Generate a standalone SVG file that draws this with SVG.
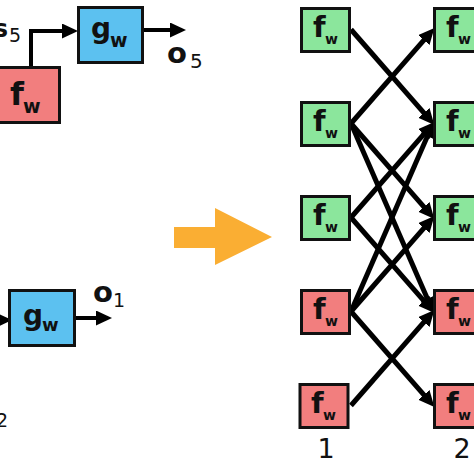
<svg xmlns="http://www.w3.org/2000/svg" width="474" height="474" viewBox="0 0 474 474">
<defs>
<style>
.box{stroke:#111;stroke-width:3}
.g{fill:#8BE69C}.r{fill:#F27E7E}.b{fill:#5CC1F0}
.t{font-family:"DejaVu Sans",sans-serif;fill:#111}
.bd{font-weight:bold}
.con{stroke:#000;stroke-width:5;fill:none}
.con2{stroke:#000;stroke-width:4;fill:none}
</style>
<marker id="ah" markerUnits="userSpaceOnUse" markerWidth="17" markerHeight="16" refX="6" refY="7.5" orient="auto">
<path d="M0,0 L16,7.5 L0,15 z" fill="#000"/>
</marker>
</defs>
<rect width="474" height="474" fill="#fff"/>

<g id="arrow-big">
<polygon points="174,227 215,227 215,208 272,237 215,265 215,248 174,248" fill="#FAAE33"/>
</g>

<g id="left-connectors">
<path class="con2" d="M31,66 V31 H68" marker-end="url(#ah)"/>
<path class="con2" d="M144,30 H176" marker-end="url(#ah)"/>
<path class="con2" d="M-20,320 H2" marker-end="url(#ah)"/>
<path class="con2" d="M76,318 H102" marker-end="url(#ah)"/>
</g>

<g id="f-left">
<rect class="box r" x="-10" y="67.5" width="69.5" height="55"/>
<text class="t bd" x="10" y="105" font-size="32">f</text>
<text class="t bd" x="23" y="113" font-size="19">w</text>
</g>
<g id="g-top">
<rect class="box b" x="78.5" y="7.5" width="64" height="55"/>
<text class="t bd" x="91" y="38" font-size="28">g</text>
<text class="t bd" x="110" y="47" font-size="19">w</text>
</g>
<g id="g-bottom">
<rect class="box b" x="9.5" y="290.5" width="65" height="55"/>
<text class="t bd" x="23" y="325" font-size="28">g</text>
<text class="t bd" x="42" y="331" font-size="18">w</text>
</g>
<g id="labels-left">
<text class="t bd" x="8" y="37" font-size="24" text-anchor="end">s</text>
<text class="t" x="9" y="42" font-size="19">5</text>
<text class="t bd" x="167" y="63" font-size="29">o</text>
<text class="t" x="190" y="68" font-size="20">5</text>
<text class="t bd" x="93" y="302" font-size="29">o</text>
<text class="t" x="113" y="307" font-size="19">1</text>
<text class="t" x="-4" y="427" font-size="19">2</text>
</g>

<g id="connectors">
<line class="con" x1="351" y1="29.5" x2="427.8" y2="117.4" marker-end="url(#ah)"/>
<line class="con" x1="351" y1="123.5" x2="427.8" y2="35.6" marker-end="url(#ah)"/>
<line class="con" x1="351" y1="123.5" x2="427.8" y2="211.4" marker-end="url(#ah)"/>
<line class="con" x1="351" y1="123.5" x2="429.8" y2="304.2" marker-end="url(#ah)"/>
<line class="con" x1="351" y1="217.5" x2="427.8" y2="129.6" marker-end="url(#ah)"/>
<line class="con" x1="351" y1="217.5" x2="427.8" y2="305.4" marker-end="url(#ah)"/>
<line class="con" x1="351" y1="311.5" x2="429.8" y2="130.8" marker-end="url(#ah)"/>
<line class="con" x1="351" y1="311.5" x2="427.8" y2="223.6" marker-end="url(#ah)"/>
<line class="con" x1="351" y1="311.5" x2="427.8" y2="399.4" marker-end="url(#ah)"/>
<line class="con" x1="351" y1="405.5" x2="427.8" y2="317.6" marker-end="url(#ah)"/>
</g>

<g id="c1n1"><rect class="box g" x="301.5" y="8.5" width="48" height="43"/><text class="t bd" x="313" y="37" font-size="29">f</text><text class="t bd" x="325" y="44" font-size="14">w</text></g>
<g id="c1n2"><rect class="box g" x="301.5" y="102.5" width="48" height="43"/><text class="t bd" x="313" y="131" font-size="29">f</text><text class="t bd" x="325" y="138" font-size="14">w</text></g>
<g id="c1n3"><rect class="box g" x="301.5" y="196.5" width="48" height="43"/><text class="t bd" x="313" y="225" font-size="29">f</text><text class="t bd" x="325" y="232" font-size="14">w</text></g>
<g id="c1n4"><rect class="box r" x="301.5" y="290.5" width="48" height="43"/><text class="t bd" x="313" y="319" font-size="29">f</text><text class="t bd" x="325" y="326" font-size="14">w</text></g>
<g id="c1n5"><rect class="box r" x="300" y="384.5" width="48" height="43"/><text class="t bd" x="311" y="413" font-size="29">f</text><text class="t bd" x="323" y="420" font-size="14">w</text></g>

<g id="c2n1"><rect class="box g" x="434.5" y="8.5" width="48" height="43"/><text class="t bd" x="446" y="37" font-size="29">f</text><text class="t bd" x="458" y="44" font-size="14">w</text></g>
<g id="c2n2"><rect class="box g" x="434.5" y="102.5" width="48" height="43"/><text class="t bd" x="446" y="131" font-size="29">f</text><text class="t bd" x="458" y="138" font-size="14">w</text></g>
<g id="c2n3"><rect class="box g" x="434.5" y="196.5" width="48" height="43"/><text class="t bd" x="446" y="225" font-size="29">f</text><text class="t bd" x="458" y="232" font-size="14">w</text></g>
<g id="c2n4"><rect class="box r" x="434.5" y="290.5" width="48" height="43"/><text class="t bd" x="446" y="319" font-size="29">f</text><text class="t bd" x="458" y="326" font-size="14">w</text></g>
<g id="c2n5"><rect class="box r" x="434.5" y="384.5" width="48" height="43"/><text class="t bd" x="446" y="413" font-size="29">f</text><text class="t bd" x="458" y="420" font-size="14">w</text></g>

<g id="col-labels">
<text class="t" x="326" y="458" font-size="27" text-anchor="middle">1</text>
<text class="t" x="462" y="458" font-size="27" text-anchor="middle">2</text>
</g>
</svg>
